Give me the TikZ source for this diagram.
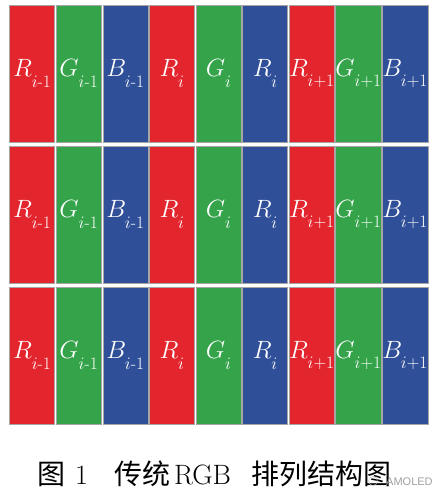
\RequirePackage{fix-cm}
\documentclass[tikz,border=0pt]{standalone}
\usepackage{amsmath}
\usepackage{fontspec}
\newfontfamily\cjk{Noto Sans CJK SC}
\newfontfamily\wmfont{Liberation Sans}
\definecolor{pixred}{HTML}{E3262E}
\definecolor{pixgreen}{HTML}{34A34A}
\definecolor{pixblue}{HTML}{2F4F98}
% subpixel label, subscript pushed a bit lower
\newcommand\sublbl[2]{$#1_{\lower6.5pt\hbox{$\scriptstyle #2$}}$}

\begin{document}
\begin{tikzpicture}[x=1pt,y=-1pt,
  pix/.style={minimum width=45pt,minimum height=137pt,inner sep=0pt,
    draw=gray!70,line width=0.7pt,text=white,font=\fontsize{25}{30}\selectfont}]
\useasboundingbox (0,0) rectangle (443,499);
% three rows of nine subpixels
\foreach \r/\y in {1/73.5,2/214.5,3/355.5}
  \foreach \c/\col/\lbl in {1/pixred/{\sublbl{R}{i\text{-}1}},
      2/pixgreen/{\sublbl{G}{i\text{-}1}},3/pixblue/{\sublbl{B}{i\text{-}1}},
      4/pixred/{\sublbl{R}{i}},5/pixgreen/{\sublbl{G}{i}},6/pixblue/{\sublbl{R}{i}},
      7/pixred/{\sublbl{R}{i+1}},8/pixgreen/{\sublbl{G}{i+1}},9/pixblue/{\sublbl{B}{i+1}}}
    \node[pix,fill=\col] (r\r c\c) at ({9+46.6*(\c-0.5)},\y) {\lbl};
% caption
\node[anchor=base west,inner sep=0pt,font=\fontsize{28}{32}\selectfont] (caption) at (37,484)
  {{\cjk 图}\hspace{10pt}1\hspace{26pt}{\cjk 传统}\hspace{4pt}RGB\hspace{20pt}{\cjk 排列结构图}};
% watermark
\node[circle,draw=gray!50,minimum size=9pt,inner sep=0pt] (wmicon) at (373,481) {};
\node[anchor=base west,inner sep=0pt,text=gray!75,font=\wmfont\fontsize{11}{12}\selectfont] (wm) at (386,485.5) {AMOLED};
\end{tikzpicture}
\end{document}
